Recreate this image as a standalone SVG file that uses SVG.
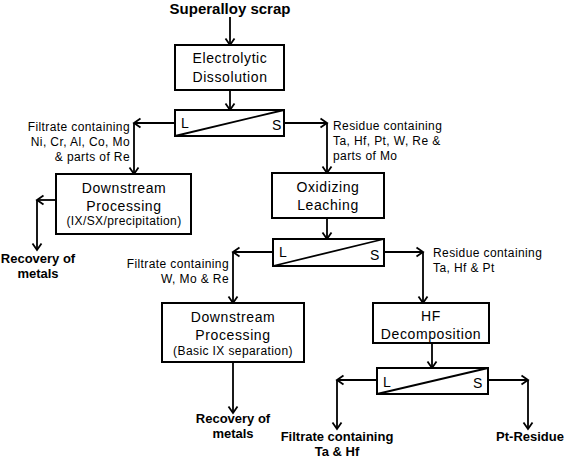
<svg xmlns="http://www.w3.org/2000/svg" width="565" height="459" viewBox="0 0 565 459">
<style>
text{font-family:"Liberation Sans",Arial,sans-serif;fill:#000}
.t{font-size:14px;letter-spacing:0.6px;text-anchor:middle}
.s{font-size:12px;letter-spacing:0.4px}
.p{font-size:12px;letter-spacing:0.4px;text-anchor:middle}
.b{font-weight:bold;font-size:13px;text-anchor:middle}
.ls{font-size:14px}
.box{fill:#fff;stroke:#000;stroke-width:2}
.c{fill:none;stroke:#000;stroke-width:1.8;marker-end:url(#arr)}
.d{fill:none;stroke:#000;stroke-width:1.8}
</style>
<defs>
<marker id="arr" markerUnits="userSpaceOnUse" viewBox="-9 -6 11 12" markerWidth="11" markerHeight="12" refX="0" refY="0" orient="auto">
<path d="M-6.5,-4.5 L0,0 L-6.5,4.5" fill="none" stroke="#000" stroke-width="1.8"/>
</marker>
</defs>
<rect width="565" height="459" fill="#fff"/>
<g id="connectors">
<path class="c" d="M230,17 V45"/>
<path class="c" d="M230,90 V110"/>
<path class="c" d="M175,123 H134"/>
<path class="c" d="M134,123 V174"/>
<path class="c" d="M284,123 H327"/>
<path class="c" d="M327,123 V173"/>
<path class="c" d="M56,200 H37"/>
<path class="c" d="M37,200 V250"/>
<path class="c" d="M327,218 V239"/>
<path class="c" d="M273,252 H233"/>
<path class="c" d="M233,252 V303"/>
<path class="c" d="M384,252 H423"/>
<path class="c" d="M423,252 V303"/>
<path class="c" d="M233,362 V413"/>
<path class="c" d="M432,343 V368"/>
<path class="c" d="M377,380 H337"/>
<path class="c" d="M337,380 V429"/>
<path class="c" d="M488,380 H528"/>
<path class="c" d="M528,380 V429"/>
</g>
<g id="scrap"><text x="230" y="14" style="font-weight:bold;font-size:15px;text-anchor:middle">Superalloy scrap</text></g>
<g id="electrolytic">
<rect class="box" x="175" y="45" width="109" height="45"/>
<text class="t" x="230" y="63">Electrolytic</text>
<text class="t" x="230" y="81.5">Dissolution</text>
</g>
<g id="sep1">
<rect class="box" x="175" y="110" width="109" height="26"/>
<path class="d" d="M175,136 L284,110"/>
<text class="ls" x="181" y="128">L</text>
<text class="ls" x="272" y="130">S</text>
</g>
<g id="filtrate1">
<text class="s" x="130" y="131" text-anchor="end">Filtrate containing</text>
<text class="s" x="130" y="146" text-anchor="end">Ni, Cr, Al, Co, Mo</text>
<text class="s" x="130" y="161" text-anchor="end">&amp; parts of Re</text>
</g>
<g id="residue1">
<text class="s" x="333" y="130">Residue containing</text>
<text class="s" x="333" y="145">Ta, Hf, Pt, W, Re &amp;</text>
<text class="s" x="333" y="160">parts of Mo</text>
</g>
<g id="downstream1">
<rect class="box" x="56" y="174" width="135" height="60"/>
<text class="t" x="124" y="193">Downstream</text>
<text class="t" x="124" y="211">Processing</text>
<text class="p" x="124" y="225">(IX/SX/precipitation)</text>
</g>
<g id="recovery1">
<text class="b" x="38" y="263">Recovery of</text>
<text class="b" x="38" y="278">metals</text>
</g>
<g id="oxidizing">
<rect class="box" x="272" y="173" width="112" height="45"/>
<text class="t" x="328" y="191.5">Oxidizing</text>
<text class="t" x="328" y="210">Leaching</text>
</g>
<g id="sep2">
<rect class="box" x="273" y="239" width="111" height="27"/>
<path class="d" d="M273,266 L384,239"/>
<text class="ls" x="279" y="257">L</text>
<text class="ls" x="370" y="260">S</text>
</g>
<g id="filtrate2">
<text class="s" x="229" y="268" text-anchor="end">Filtrate containing</text>
<text class="s" x="229" y="283" text-anchor="end">W, Mo &amp; Re</text>
</g>
<g id="residue2">
<text class="s" x="433" y="257">Residue containing</text>
<text class="s" x="433" y="272">Ta, Hf &amp; Pt</text>
</g>
<g id="downstream2">
<rect class="box" x="162" y="303" width="142" height="59"/>
<text class="t" x="233" y="321.5">Downstream</text>
<text class="t" x="233" y="340">Processing</text>
<text class="p" x="233" y="355">(Basic IX separation)</text>
</g>
<g id="recovery2">
<text class="b" x="233" y="423">Recovery of</text>
<text class="b" x="233" y="438">metals</text>
</g>
<g id="hf">
<rect class="box" x="373" y="303" width="116" height="40"/>
<text class="t" x="431" y="320.5">HF</text>
<text class="t" x="431" y="338.5">Decomposition</text>
</g>
<g id="sep3">
<rect class="box" x="377" y="368" width="111" height="26"/>
<path class="d" d="M377,394 L488,368"/>
<text class="ls" x="383" y="387">L</text>
<text class="ls" x="473" y="388">S</text>
</g>
<g id="filtrate3">
<text class="b" x="337" y="441">Filtrate containing</text>
<text class="b" x="337" y="456">Ta &amp; Hf</text>
</g>
<g id="ptresidue"><text class="b" x="530" y="441">Pt-Residue</text></g>
</svg>
